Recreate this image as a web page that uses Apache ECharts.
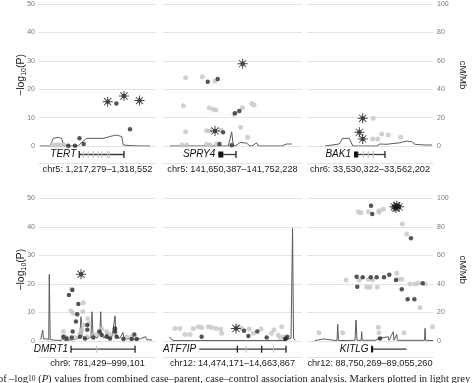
<!DOCTYPE html>
<html><head><meta charset="utf-8">
<script src="https://cdn.jsdelivr.net/npm/echarts@6/dist/echarts.min.js"></script>
<style>html,body{margin:0;padding:0;background:#fff}#c{width:474px;height:383px}</style>
</head><body><div id="c"></div><script>
// ---- data (x = position across region, % of plotted window; y = -log10(P); recomb = cM/Mb) ----
const geneNames = ['TERT','SPRY4','BAK1','DMRT1','ATF7IP','KITLG'];
const regionLabels = ['chr5: 1,217,279\u20131,318,552','chr5: 141,650,387\u2013141,752,228','chr6: 33,530,322\u201333,562,202',
  'chr9: 781,429\u2013999,101','chr12: 14,474,171\u201314,663,867','chr12: 88,750,269\u201389,055,260'];
const pTicks = [0,10,20,30,40,50];
const cmTicks = [0,20,40,60,80,100];

const tertRecomb = [[0.9,0],[9.4,0],[12.2,5.4],[16.5,6.1],[19.4,5.4],[20.8,0],[33.6,0],[36.5,2.6],[40.8,5.4],[47.9,5.4],[55,5.4],[63.5,7.3],[66.4,7.7],[70.7,6.6],[72,0.7],[77.8,0.3],[86.3,0],[94.9,0]];
const tertGrey = [[11.1,0.4],[13.7,0.3],[16.2,0.4],[18.8,0.3],[21.4,0.4]];
const tertDark = [[25.0,0.1],[30.8,0.1],[34.6,2.7],[38.2,0.7],[66.1,15.0],[77.8,5.9]];
const tertStar = [[58.7,15.6],[72.6,17.6],[85.9,16.0]];

const spry4Recomb = [[5.0,0],[47.0,0],[49.4,10.0],[50.6,0],[52.5,0.3],[55.4,2.5],[60.2,2.0],[62.6,0],[64.7,0.3],[67.4,2.3],[68.6,0],[85.4,0],[89.0,1.4],[92.6,1.4]];
const spry4Grey = [[16.3,24.0],[28.3,24.4],[37.4,22.9],[14.6,14.2],[33.3,13.5],[36.2,12.9],[38.1,12.7],[51.1,11.2],[57.1,13.5],[63.8,15.0],[65.5,14.4],[16.3,5.0],[31.4,5.4],[33.8,5.4],[41.5,5.6],[55.9,6.6],[60.9,3.1],[13.5,0.35],[17.1,0.35],[31.4,0.6],[33.8,0.35],[38.6,0.7]];
const spry4Dark = [[32.2,22.6],[39.4,23.6],[51.8,11.5],[54.9,12.3],[43.2,4.8],[40.6,0.7],[49.4,0.3]];
const spry4Star = [[57.3,29.0],[37.4,5.3]];

const bak1Recomb = [[14.3,0],[25.6,1.4],[28.3,5.4],[33.6,5.4],[36.3,0],[55.3,0],[57.9,1.4],[59.3,0.3],[63.3,1.2],[73.8,2.3],[79.1,3.5],[83.1,3.0],[85.7,1.2],[93.7,0.7],[99.2,0.7]];
const bak1Grey = [[52.6,9.75],[52.1,2.5],[56.1,2.5],[59.3,4.2],[64.5,3.9],[74.4,3.1]];
const bak1Dark = [];
const bak1Star = [[44.2,9.75],[41.5,4.8],[44.2,2.5]];

const dmrt1Recomb = [[1.5,1],[2.6,2],[3.2,7.7],[3.8,1.5],[6.0,1.5],[8.3,1],[8.8,46.7],[9.6,1],[11.1,0.7],[13.7,0.5],[19.4,0.5],[20.5,2.5],[21.4,0.5],[26.5,0.7],[30.8,1],[33.3,2],[35.0,5],[35.9,17],[36.8,4],[38.5,2],[41.9,1.5],[44.4,3],[45.3,20.5],[46.2,4],[49.6,2],[52.1,6],[52.7,20.5],[53.4,4],[55.6,2],[58.1,6],[59.0,2],[62.4,3],[65.0,17.5],[65.8,3],[69.2,2],[71.8,6],[72.6,1.5],[77.8,1.5],[80.3,3],[81.2,1],[86.3,1.5],[91.2,3],[91.9,1],[96.6,0.7]];
const dmrt1Grey = [[27.9,18.2],[37.9,13.4],[27.4,10.5],[29.3,9.7],[37.4,10.3],[41.6,7.9],[43.0,6.2],[37.9,5.6],[36.5,3.9],[53.6,4.2],[57.9,3.3],[60.7,2.3],[20.8,3.3],[22.2,1.5],[30.8,1.2],[40.8,1.5],[49.3,2.3],[65.0,2.7],[75.0,1.5],[79.2,1.5],[35.0,2.7]];
const dmrt1Dark = [[28.5,17.9],[25.6,16.1],[33.6,13.0],[32.7,9.4],[31.6,6.8],[41.3,5.6],[41.3,3.9],[28.8,3.3],[20.8,1.5],[23.7,0.9],[27.9,1.2],[35.0,1.5],[39.3,0.9],[51.5,3.3],[53.6,2.1],[60.7,0.9],[65.0,4.4],[65.0,3.3],[66.4,1.5],[72.1,0.7],[79.2,0.7],[81.5,2.3],[83.5,0.7],[46.4,1.2],[57.9,1.5]];
const dmrt1Star = [[35.9,23.4]];

const atf7ipRecomb = [[5.0,3],[6.1,1.0],[7.9,0.3],[86.3,0.3],[89.9,1.2],[92.1,2],[93.2,79],[93.9,2],[95.0,0.5]];
const atf7ipGrey = [[8.6,4.4],[12.2,4.4],[15.8,2.3],[19.4,2.3],[21.8,4.4],[25.4,5.0],[27.8,4.7],[32.6,5.0],[35.0,4.7],[38.1,4.4],[41.5,4.2],[42.2,2.7],[54.2,5.0],[56.6,4.4],[62.1,4.2],[65.0,2.7],[70.5,4.2],[78.2,2.7],[79.9,3.9],[82.9,2.1],[84.2,1.2],[85.4,5.0],[86.5,1.5]];
const atf7ipDark = [[27.8,1.5],[58.3,3.6],[61.4,1.75],[67.8,3.3],[74.6,1.2],[87.8,0.7],[88.5,0.9],[89.4,1.5]];
const atf7ipStar = [[52.5,4.4]];

const kitlgRecomb = [[6.3,0.3],[12.9,1.4],[13.9,0.3],[23.8,0.3],[24.4,11.7],[25.0,0.3],[38.1,0.5],[38.9,14.7],[39.7,0.5],[43.0,0.5],[43.4,6.5],[43.8,0.5],[54.0,0.5],[57.9,1.9],[58.7,0.5],[64.5,3],[65.1,0.5],[68.5,6.5],[69.0,0.5],[71.2,4.7],[71.7,0.5],[93.3,0.5],[93.7,8.9],[94.2,0.5],[100,0.3]];
const kitlgGrey = [[40.7,45.3],[42.9,44.9],[48.7,45.3],[57.1,45.6],[60.6,46.2],[57.1,45.1],[75.6,41.0],[79.1,37.5],[31.0,21.4],[41.5,21.4],[48.7,21.6],[52.1,21.4],[71.2,23.7],[72.5,21.6],[75.2,21.6],[81.7,20.0],[85.7,20.0],[88.3,20.2],[93.7,20.0],[47.4,18.8],[50.0,18.8],[55.8,18.8],[89.7,11.7],[99.5,5.0],[9.5,2.9],[28.3,2.9],[56.6,4.8],[57.1,2.9],[77.0,2.9]];
const kitlgDark = [[50.8,47.4],[51.8,44.5],[39.4,22.5],[44.2,22.3],[50.6,22.3],[55.3,22.3],[61.1,22.3],[65.3,23.2],[70.6,21.4],[39.9,19.0],[75.2,18.1],[79.9,14.6],[85.2,14.6],[82.5,36.0],[91.8,20.2],[57.9,0.9]];
const kitlgStar = [[69.3,47.0],[71.2,47.4],[73.0,47.0],[70.6,46.6]];

// gene models (same x units)
const geneStart = [34.4, 39.8, 37.3, 27.4, 26.1, 51.3];
const geneEnd   = [72.6, 52.5, 61.9, 82.1, 88.5, 79.1];
const geneBoxes = [null, [39.8,43.4], [37.3,40.7], null, null, [51.3,52.0]];
const geneDarkTicks  = [[34.4,72.6],[52.5],[61.9],[27.4,82.1],[53.5,71.0,88.5],[51.3]];
const geneLightTicks = [[37.9,42.1,46.4,50.7,53.6,58.4,60.1],[],[44.7,48.7,52.6],[49.3],[59.7,79.4],[]];

const recombs = [tertRecomb, spry4Recomb, bak1Recomb, dmrt1Recomb, atf7ipRecomb, kitlgRecomb];
const greys = [tertGrey, spry4Grey, bak1Grey, dmrt1Grey, atf7ipGrey, kitlgGrey];
const darks = [tertDark, spry4Dark, bak1Dark, dmrt1Dark, atf7ipDark, kitlgDark];
const stars = [tertStar, spry4Star, bak1Star, dmrt1Star, atf7ipStar, kitlgStar];

// ---- layout ----
const cols = [{l:39,w:117},{l:163,w:139},{l:307,w:126}];
const rows = [{t:4,h:142,gt:146,gh:17},{t:198.3,h:142.7,gt:341,gh:16.3}];
const GRID = '#e3e3e3';
const FONT = 'Liberation Sans';
const starPath = 'path://M-0.5,-5 L0.5,-5 L0.5,5 L-0.5,5 Z M-5,-0.5 L5,-0.5 L5,0.5 L-5,0.5 Z M-3.28,-3.92 L3.92,3.28 L3.28,3.92 L-3.92,-3.28 Z M-3.28,3.92 L-3.92,3.28 L3.28,-3.92 L3.92,-3.28 Z M-2,-2 L2,-2 L2,2 L-2,2 Z';

const grid=[], xAxis=[], yAxis=[], series=[];
for (let i=0;i<6;i++){
  const c=cols[i%3], r=rows[Math.floor(i/3)];
  grid.push({left:c.l, top:r.t, width:c.w, height:r.h});
}
for (let i=0;i<6;i++){
  const c=cols[i%3], r=rows[Math.floor(i/3)];
  grid.push({left:c.l, top:r.gt, width:c.w, height:r.gh});
}
for (let i=0;i<6;i++){
  xAxis.push({type:'value', gridIndex:i, min:0, max:100, show:false});
}
for (let i=0;i<6;i++){
  xAxis.push({type:'value', gridIndex:6+i, min:0, max:100,
    axisLine:{show:true, lineStyle:{color:GRID, width:1}}, axisTick:{show:false}, axisLabel:{show:false}, splitLine:{show:false},
    name: regionLabels[i], nameLocation:'middle', nameGap:2,
    nameTextStyle:{fontFamily:FONT, fontSize:9.2, color:'#1a1a1a', verticalAlign:'top'}});
}
for (let i=0;i<6;i++){
  const leftCol = i%3===0, rightCol = i%3===2;
  yAxis.push({type:'value', gridIndex:i, min:0, max:50, interval:10, position:'left',
    axisLine:{show:false}, axisTick:{show:false},
    axisLabel:{show:leftCol, fontFamily:FONT, fontSize:7, color:'#7a7a7a', margin:4},
    splitLine:{show:true, lineStyle:{color:GRID, width:1}},
    name: leftCol ? '\u2212log{s|10}(P)' : '', nameLocation:'middle', nameGap:11, nameRotate:90, nameMoveOverlap:false,
    nameTextStyle:{fontFamily:FONT, fontSize:10.5, color:'#222', rich:{s:{fontFamily:FONT, fontSize:7, color:'#222', verticalAlign:'bottom', padding:[6,0,0,0]}}}});
  yAxis.push({type:'value', gridIndex:i, min:0, max:100, interval:20, position:'right',
    axisLine:{show:false}, axisTick:{show:false},
    axisLabel:{show:rightCol, fontFamily:FONT, fontSize:7, color:'#7a7a7a', margin:4},
    splitLine:{show:false},
    name: rightCol ? 'cM/Mb' : '', nameLocation:'middle', nameGap:25, nameRotate:-90,
    nameTextStyle:{fontFamily:FONT, fontSize:9.5, color:'#222'}});
}
for (let i=0;i<6;i++){
  yAxis.push({type:'value', gridIndex:6+i, min:0, max:1, show:false});
}

function geneRender(i){
  return function(params, api){
    const cy = api.coord([0,0.5])[1];
    const x0 = api.coord([geneStart[i],0.5])[0];
    const x1 = api.coord([geneEnd[i],0.5])[0];
    const ch = [];
    ch.push({type:'line', shape:{x1:x0,y1:cy,x2:x1,y2:cy}, style:{stroke:'#3a3a3a', lineWidth:1.3}});
    geneLightTicks[i].forEach(v=>{ const x=api.coord([v,0.5])[0];
      ch.push({type:'line', shape:{x1:x,y1:cy-3.5,x2:x,y2:cy+3.5}, style:{stroke:'#c2c2c2', lineWidth:1.1}}); });
    geneDarkTicks[i].forEach(v=>{ const x=api.coord([v,0.5])[0];
      ch.push({type:'line', shape:{x1:x,y1:cy-3.5,x2:x,y2:cy+3.5}, style:{stroke:'#222', lineWidth:1.3}}); });
    if (geneBoxes[i]) { const a=api.coord([geneBoxes[i][0],0.5])[0], b=api.coord([geneBoxes[i][1],0.5])[0];
      ch.push({type:'rect', shape:{x:a,y:cy-3,width:Math.max(b-a,1.5),height:6}, style:{fill:'#111'}}); }
    ch.push({type:'text', x:x0-3, y:cy, style:{text:geneNames[i], textAlign:'right', textVerticalAlign:'middle', align:'right', verticalAlign:'middle', font:'italic 10px "Liberation Sans"', fill:'#111'}});
    return {type:'group', children:ch};
  };
}

for (let i=0;i<6;i++){
  series.push({type:'line', xAxisIndex:i, yAxisIndex:2*i+1, data:recombs[i], symbol:'none', silent:true,
    lineStyle:{color:'#5a5a5a', width:1}, z:2, animation:false});
  series.push({type:'scatter', xAxisIndex:i, yAxisIndex:2*i, data:greys[i], symbol:'circle', symbolSize:5,
    itemStyle:{color:'#c6c6c6'}, z:3, animation:false});
  series.push({type:'scatter', xAxisIndex:i, yAxisIndex:2*i, data:darks[i], symbol:'circle', symbolSize:4.5,
    itemStyle:{color:'#2a2a2a'}, z:4, animation:false});
  series.push({type:'scatter', xAxisIndex:i, yAxisIndex:2*i, data:stars[i], symbol:starPath, symbolSize:10,
    itemStyle:{color:'#111'}, z:5, animation:false});
  series.push({type:'custom', xAxisIndex:6+i, yAxisIndex:12+i, data:[[geneStart[i],geneEnd[i]]],
    renderItem:geneRender(i), z:5, animation:false, clip:false});
}

const chart = echarts.init(document.getElementById('c'), null, {renderer:'canvas'});
chart.setOption({
  animation:false, backgroundColor:'#fff',
  grid, xAxis, yAxis, series,
  graphic:[{type:'text', left:-2, top:374, style:{
    text:'of {t|\u2013log}{s|10}{t| (}{i|P}{t|) values from combined case\u2013parent, case\u2013control association analysis. Markers plotted in light grey}',
    rich:{t:{fontFamily:'Liberation Serif', fontSize:10.5, fill:'#222'}, s:{fontFamily:'Liberation Serif', fontSize:7.5, fill:'#222'}, i:{fontFamily:'Liberation Serif', fontStyle:'italic', fontSize:10.5, fill:'#222'}},
    fontFamily:'Liberation Serif', fontSize:10.5, fill:'#222'}}]
});
</script></body></html>
